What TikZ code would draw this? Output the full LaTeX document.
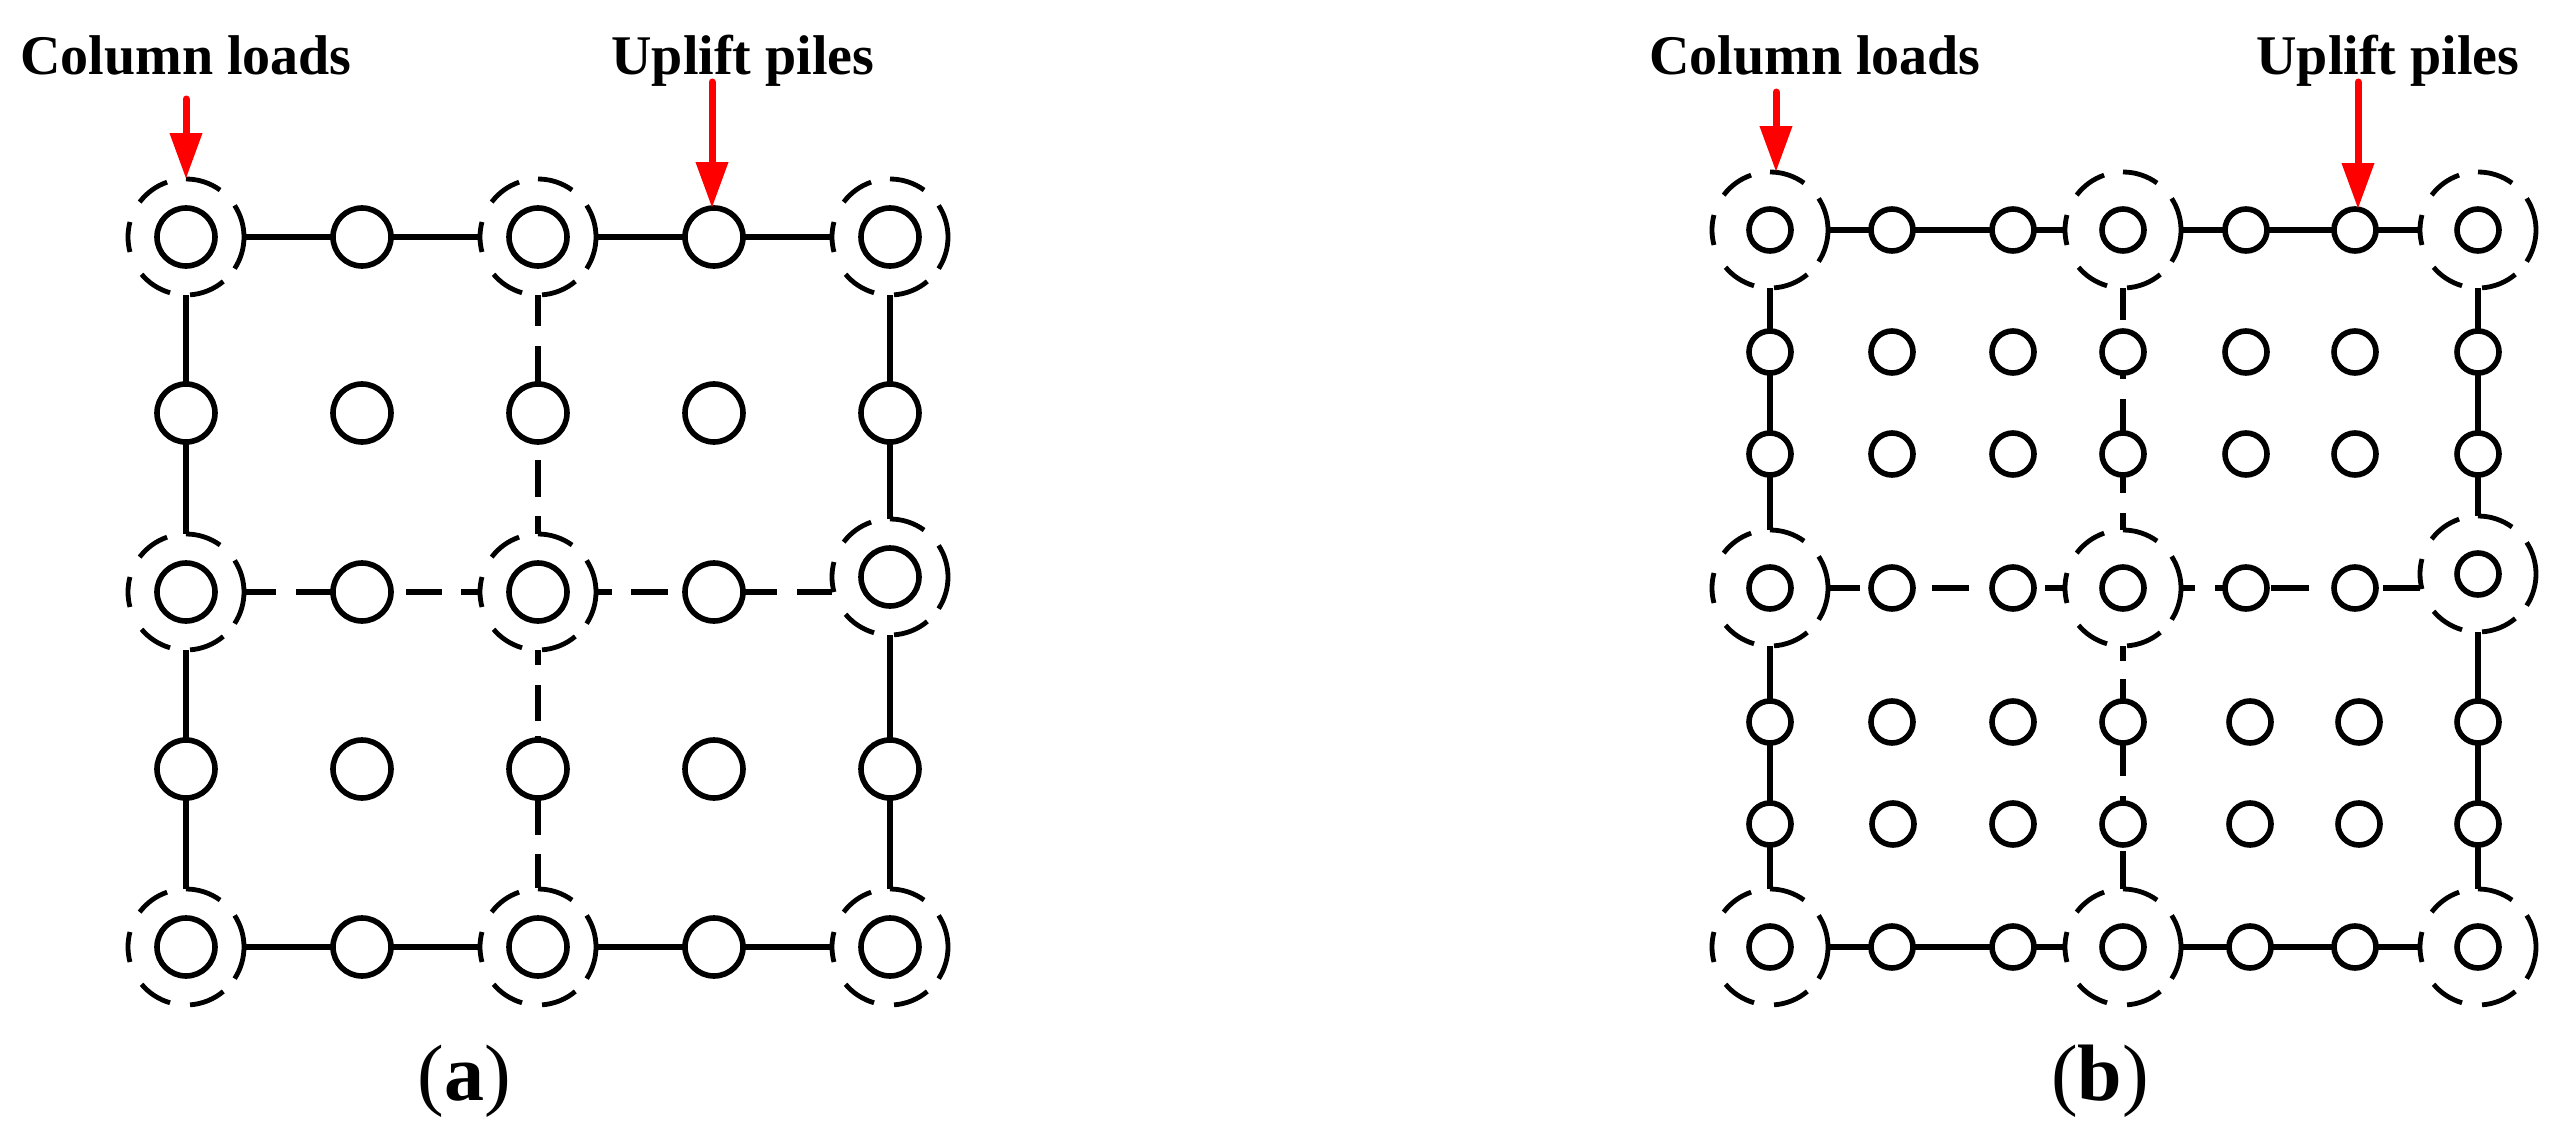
\documentclass[tikz,border=0pt]{standalone}
\usepackage{fontspec}
\setmainfont{Liberation Serif}
\usepackage{tikz}
\usetikzlibrary{arrows.meta}
\definecolor{loadred}{RGB}{255,0,0}
\tikzset{
    foundation/.style={
            x=0.25pt,y=-0.25pt,
            ring/.style={circle,minimum size=29pt,inner sep=0pt,outer sep=0pt},
            ringarc/.style={line width=1.2pt},
            pilea/.style={circle,draw,line width=1.4pt,minimum size=14.5pt,inner sep=0pt,outer sep=0pt},
            pileb/.style={circle,draw,line width=1.4pt,minimum size=10.5pt,inner sep=0pt,outer sep=0pt},
            tie/.style={line width=1.35pt},
            load/.style={draw=loadred,line width=1.75pt,line cap=round,-{Triangle[length=11.5pt,width=7.75pt,fill=loadred]}},
            tag/.style={anchor=base,inner sep=0pt,font=\fontsize{14}{14}\selectfont\bfseries},
            panel/.style={anchor=base,inner sep=0pt,font=\fontsize{20}{20}\selectfont}
        }
    }
\begin{document}
\begin{tikzpicture}[foundation]
        \useasboundingbox (0,0) rectangle (2563,1135);

        % panel a
        \foreach \name/\x/\y in {a11/186/237,a13/538/237,a15/890/237,a31/186/592,a33/538/592,a35/890/577,a51/186/947,a53/538/947,a55/890/947}{
            \node[ring] (\name) at (\x,\y) {};
            \node[pilea] (\name p) at (\x,\y) {};
        }
        \foreach \name/\x/\y in {a12/362/237,a14/714/237,a21/186/413,a22/362/413,a23/538/413,a24/714/413,a25/890/413,a32/362/592,a34/714/592,a41/186/769,a42/362/769,a43/538/769,a44/714/769,a45/890/769,a52/362/947,a54/714/947}
            \node[pilea] (\name) at (\x,\y) {};

        % panel b
        \foreach \name/\x/\y in {b11/1770/230,b14/2123/230,b17/2478/230,b41/1770/588,b44/2123/588,b47/2478/574,b71/1770/947,b74/2123/947,b77/2478/947}{
            \node[ring] (\name) at (\x,\y) {};
            \node[pileb] (\name p) at (\x,\y) {};
        }
        \foreach \name/\x/\y in {b12/1892/230,b13/2013/230,b15/2246/230,b16/2355/230,
            b21/1770/352,b22/1892/352,b23/2013/352,b24/2123/352,b25/2246/352,b26/2355/352,b27/2478/352,
            b31/1770/454,b32/1892/454,b33/2013/454,b34/2123/454,b35/2246/454,b36/2355/454,b37/2478/454,
            b42/1892/588,b43/2013/588,b45/2246/588,b46/2355/588,
            b51/1770/722,b52/1892/722,b53/2013/722,b54/2123/722,b55/2250/722,b56/2359/722,b57/2478/722,
            b61/1770/824,b62/1893/824,b63/2013/824,b64/2123/824,b65/2250/824,b66/2359/824,b67/2478/824,
            b72/1892/947,b73/2013/947,b75/2250/947,b76/2355/947}
            \node[pileb] (\name) at (\x,\y) {};

        \foreach \name in {a11,a13,a15,a31,a33,a35,a51,a53,a55,b11,b14,b17,b41,b44,b47,b71,b74,b77}
            \foreach \s/\e in {90/54,33/-33,-50/-86,-106/-140,165/195,143/109}
                \draw[ringarc] (\name.\s) arc[start angle=\s,end angle=\e,radius=14.5pt];

        \foreach \from/\to in {a11/a12,a12/a13,a13/a14,a14/a15,a51/a52,a52/a53,a53/a54,a54/a55,
            a11/a21,a21/a31,a31/a41,a41/a51,a15/a25,a25/a35,a35/a45,a45/a55,
            b11/b12,b12/b13,b13/b14,b14/b15,b15/b16,b16/b17,b71/b72,b72/b73,b73/b74,b74/b75,b75/b76,b76/b77,
            b11/b21,b21/b31,b31/b41,b41/b51,b51/b61,b61/b71,b17/b27,b27/b37,b37/b47,b47/b57,b57/b67,b67/b77}
            \draw[tie] (\from) -- (\to);

        % broken ties
        \draw[tie,dash pattern=on 7.75pt off 5pt on 9pt] (a13) -- (a23);
        \draw[tie,dash pattern=on 0pt off 4.6pt on 9.1pt off 4.8pt on 4pt] (a23) -- (a33);
        \draw[tie,dash pattern=on 3.75pt off 5pt on 9pt] (a33) -- (a43);
        \draw[tie,dash pattern=on 9.25pt off 4.75pt on 8.5pt] (a43) -- (a53);
        \draw[tie,dash pattern=on 8pt off 5pt on 9pt] (a31) -- (a32);
        \draw[tie,dash pattern=on 0pt off 3.75pt on 9.1pt off 4.75pt on 4pt] (a32) -- (a33);
        \draw[tie,dash pattern=on 4pt off 4.75pt on 9.25pt off 4pt] (a33) -- (a34);
        \draw[tie,dash pattern=on 8.5pt off 5pt on 9.25pt] (a34) -- (a34 -| a35.west);

        \draw[tie,dash pattern=on 8pt off 20pt] (b14) -- (b24);
        \draw[tie,dash pattern=on 1.5pt off 5pt on 10pt] (b24) -- (b34);
        \draw[tie,dash pattern=on 4.5pt off 5pt on 5pt] (b34) -- (b44);
        \draw[tie,dash pattern=on 3.75pt off 4.6pt on 5pt] (b44) -- (b54);
        \draw[tie,dash pattern=on 8.25pt off 5pt on 2pt] (b54) -- (b64);
        \draw[tie,dash pattern=on 0pt off 1.5pt on 10pt] (b64) -- (b74);
        \draw[tie,dash pattern=on 8pt off 20pt] (b41) -- (b42);
        \draw[tie,dash pattern=on 0pt off 4.75pt on 9.25pt off 20pt] (b42) -- (b43);
        \draw[tie,dash pattern=on 0pt off 2.75pt on 5pt] (b43) -- (b44);
        \draw[tie,dash pattern=on 3.5pt off 5pt on 2.5pt] (b44) -- (b45);
        \draw[tie,dash pattern=on 0pt off 1pt on 9.5pt off 20pt] (b45) -- (b46);
        \draw[tie,dash pattern=on 0pt off 1.75pt on 9pt] (b46) -- (b46 -| b47.west);

        % loads and labels
        \coordinate (a col top) at (186,99);
        \coordinate (a pile top) at (712,82);
        \coordinate (b col top) at (1776,92);
        \coordinate (b pile top) at (2358,82);
        \draw[load] (a col top) -- (a col top |- a11.north);
        \draw[load] (a pile top) -- (a pile top |- a14.north);
        \draw[load] (b col top) -- (b col top |- b11.north);
        \draw[load] (b pile top) -- (b pile top |- b16.north);

        \node[tag] (a col) at (186,75) {Column loads};
        \node[tag] (a pile) at (743,75) {Uplift piles};
        \node[tag] (b col) at (1815,75) {Column loads};
        \node[tag] (b pile) at (2388,75) {Uplift piles};
        \node[panel] (a cap) at (464,1100) {(\textbf{a})};
        \node[panel] (b cap) at (2100,1100) {(\textbf{b})};
    \end{tikzpicture}
\end{document}
